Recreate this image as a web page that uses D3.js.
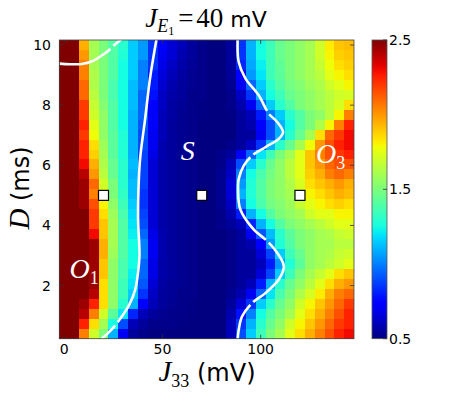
<!DOCTYPE html>
<html>
<head>
<meta charset="utf-8">
<script src="https://cdn.jsdelivr.net/npm/d3@7"></script>
<style>
  body { margin: 0; background: #fff; }
  text { fill: #000; }
</style>
</head>
<body>
<svg width="474" height="399"></svg>
<script>
  // grid of the map
  const j33 = [0, 5, 10, 15, 20, 25, 30, 35, 40, 45, 50, 55, 60, 65, 70, 75, 80, 85, 90, 95,
               100, 105, 110, 115, 120, 125, 130, 135, 140, 145];
  const dVals = [10.0, 9.669, 9.338, 9.007, 8.676, 8.345, 8.014, 7.683, 7.352, 7.021,
                 6.690, 6.359, 6.028, 5.697, 5.366, 5.034, 4.703, 4.372, 4.041, 3.710,
                 3.379, 3.048, 2.717, 2.386, 2.055, 1.724, 1.393, 1.062, 0.731, 0.400];

  // one row per D value (top to bottom), one number per J33 column
  const values = [
    [2.5,2.5,1.95,1.6,1.5,1.4,1.3,1.15,1.05,0.85, 0.72,0.65,0.6,0.55,0.52,0.5,0.5,0.55, 0.85,1.1,1.25,1.35,1.45,1.5,1.55,1.6,1.7,1.82,1.9,1.92],
    [2.5,2.5,2.0,1.6,1.5,1.4,1.28,1.15,1.05,0.85, 0.7,0.65,0.58,0.55,0.52,0.5,0.5,0.55, 0.85,1.1,1.25,1.35,1.45,1.5,1.55,1.6,1.7,1.8,1.88,1.9],
    [2.5,2.5,2.05,1.6,1.5,1.4,1.25,1.15,1.0,0.85, 0.68,0.62,0.57,0.54,0.52,0.5,0.5,0.55, 0.82,1.08,1.22,1.35,1.43,1.5,1.55,1.6,1.68,1.78,1.85,1.88],
    [2.5,2.5,2.05,1.62,1.5,1.4,1.25,1.15,1.0,0.8, 0.66,0.6,0.56,0.53,0.52,0.5,0.5,0.54, 0.75,1.05,1.2,1.35,1.42,1.5,1.55,1.6,1.65,1.75,1.8,1.85],
    [2.5,2.5,2.1,1.62,1.5,1.38,1.25,1.12,1.0,0.8, 0.64,0.58,0.55,0.53,0.52,0.5,0.5,0.53, 0.7,0.95,1.15,1.3,1.4,1.48,1.52,1.58,1.62,1.7,1.75,1.8],
    [2.5,2.5,2.1,1.65,1.5,1.38,1.25,1.12,0.95,0.78, 0.62,0.57,0.55,0.52,0.52,0.5,0.5,0.52, 0.62,0.85,1.1,1.25,1.35,1.45,1.5,1.55,1.6,1.65,1.7,1.72],
    [2.5,2.5,2.2,1.68,1.52,1.4,1.25,1.12,0.95,0.75, 0.62,0.56,0.54,0.52,0.51,0.5,0.5,0.52, 0.58,0.7,0.95,1.15,1.3,1.4,1.5,1.55,1.6,1.65,1.72,1.85],
    [2.5,2.5,2.2,1.7,1.55,1.4,1.25,1.1,0.95,0.75, 0.6,0.56,0.53,0.52,0.51,0.5,0.5,0.51, 0.55,0.6,0.8,1.0,1.15,1.3,1.4,1.5,1.55,1.65,1.8,2.05],
    [2.5,2.5,2.25,1.75,1.55,1.4,1.25,1.1,0.92,0.72, 0.6,0.55,0.53,0.52,0.5,0.5,0.5,0.5, 0.55,0.58,0.72,0.9,1.1,1.25,1.4,1.5,1.62,1.8,2.05,2.25],
    [2.5,2.5,2.2,1.78,1.55,1.42,1.28,1.1,0.9,0.7, 0.6,0.55,0.53,0.52,0.5,0.5,0.5,0.5, 0.55,0.55,0.7,0.9,1.1,1.3,1.45,1.6,1.85,2.1,2.2,2.3],
    [2.5,2.5,2.25,1.85,1.58,1.42,1.28,1.1,0.9,0.7, 0.58,0.55,0.53,0.52,0.5,0.5,0.5,0.52, 0.55,0.62,0.85,1.1,1.3,1.45,1.6,1.78,2.0,2.15,2.25,2.3],
    [2.5,2.5,2.25,1.88,1.6,1.42,1.28,1.1,0.88,0.68, 0.58,0.55,0.53,0.52,0.5,0.5,0.52,0.55, 0.7,0.95,1.2,1.35,1.5,1.6,1.75,1.9,2.05,2.15,2.2,2.25],
    [2.5,2.5,2.3,1.95,1.62,1.45,1.3,1.12,0.88,0.65, 0.57,0.55,0.53,0.52,0.5,0.5,0.52,0.6, 0.9,1.15,1.3,1.45,1.55,1.65,1.75,1.9,2.0,2.1,2.15,2.15],
    [2.5,2.5,2.4,2.0,1.65,1.45,1.3,1.1,0.88,0.65, 0.57,0.55,0.53,0.52,0.5,0.5,0.53,0.62, 1.0,1.25,1.38,1.48,1.55,1.65,1.75,1.88,1.95,2.05,2.1,2.05],
    [2.5,2.5,2.45,2.1,1.7,1.5,1.3,1.12,0.88,0.65, 0.57,0.55,0.53,0.52,0.5,0.5,0.53,0.65, 1.05,1.28,1.4,1.5,1.55,1.62,1.72,1.85,1.9,1.95,2.0,1.95],
    [2.5,2.5,2.45,2.05,1.75,1.5,1.32,1.12,0.85,0.65, 0.57,0.55,0.53,0.52,0.5,0.5,0.53,0.65, 1.1,1.28,1.4,1.5,1.55,1.6,1.72,1.8,1.85,1.9,1.95,1.92],
    [2.5,2.5,2.45,2.15,1.8,1.55,1.35,1.15,0.85,0.65, 0.57,0.55,0.53,0.52,0.5,0.5,0.53,0.62, 1.0,1.25,1.38,1.48,1.52,1.58,1.68,1.75,1.8,1.85,1.88,1.85],
    [2.5,2.5,2.5,2.2,1.85,1.58,1.38,1.18,0.88,0.65, 0.57,0.55,0.53,0.52,0.5,0.5,0.52,0.58, 0.8,1.1,1.25,1.4,1.5,1.55,1.6,1.7,1.75,1.75,1.8,1.8],
    [2.5,2.5,2.5,2.2,1.9,1.6,1.4,1.2,0.9,0.65, 0.57,0.55,0.53,0.52,0.5,0.5,0.52,0.55, 0.6,0.82,1.1,1.25,1.4,1.5,1.55,1.6,1.65,1.7,1.75,1.75],
    [2.5,2.5,2.5,2.3,1.9,1.6,1.4,1.22,0.95,0.68, 0.58,0.55,0.53,0.52,0.5,0.5,0.5,0.52, 0.55,0.7,0.92,1.12,1.3,1.42,1.5,1.55,1.6,1.62,1.68,1.7],
    [2.5,2.5,2.5,2.45,1.95,1.6,1.4,1.25,1.0,0.7, 0.58,0.55,0.53,0.52,0.5,0.5,0.5,0.52, 0.55,0.58,0.75,1.05,1.28,1.4,1.5,1.55,1.6,1.6,1.65,1.65],
    [2.5,2.5,2.5,2.45,1.95,1.58,1.4,1.25,1.0,0.7, 0.58,0.55,0.53,0.52,0.5,0.5,0.5,0.52, 0.55,0.55,0.65,0.88,1.15,1.35,1.45,1.55,1.6,1.62,1.68,1.7],
    [2.5,2.5,2.5,2.45,1.9,1.55,1.38,1.25,0.95,0.68, 0.57,0.55,0.53,0.52,0.5,0.5,0.5,0.52, 0.55,0.55,0.6,0.8,1.05,1.28,1.42,1.55,1.6,1.65,1.7,1.75],
    [2.5,2.5,2.5,2.45,1.9,1.55,1.38,1.22,0.95,0.68, 0.57,0.55,0.53,0.52,0.5,0.5,0.5,0.52, 0.55,0.55,0.65,0.88,1.15,1.35,1.5,1.6,1.68,1.75,1.85,1.9],
    [2.5,2.5,2.5,2.45,1.85,1.55,1.35,1.2,0.92,0.65, 0.56,0.54,0.53,0.52,0.5,0.5,0.5,0.52, 0.55,0.6,0.8,1.1,1.3,1.45,1.55,1.65,1.75,1.85,1.95,2.0],
    [2.5,2.5,2.5,2.4,1.85,1.55,1.35,1.15,0.85,0.62, 0.55,0.54,0.52,0.52,0.5,0.5,0.5,0.53, 0.58,0.7,0.95,1.2,1.38,1.5,1.62,1.72,1.82,1.95,2.05,2.1],
    [2.5,2.5,2.45,2.25,1.85,1.55,1.3,1.1,0.75,0.6, 0.55,0.53,0.52,0.51,0.5,0.5,0.5,0.55, 0.65,0.85,1.15,1.3,1.45,1.55,1.7,1.8,1.9,2.0,2.1,2.2],
    [2.5,2.5,2.4,2.05,1.7,1.42,1.2,0.82,0.6,0.55, 0.53,0.52,0.52,0.51,0.5,0.5,0.5,0.58, 0.78,1.0,1.25,1.4,1.5,1.6,1.75,1.85,1.95,2.05,2.15,2.25],
    [2.5,2.5,2.25,1.85,1.6,1.25,0.9,0.6,0.55,0.52, 0.52,0.52,0.51,0.5,0.5,0.5,0.5,0.6, 0.85,1.1,1.3,1.45,1.55,1.7,1.8,1.9,2.0,2.1,2.2,2.25],
    [2.5,2.5,2.05,1.7,1.5,1.1,0.7,0.55,0.52,0.5, 0.5,0.5,0.5,0.5,0.5,0.5,0.5,0.6, 0.9,1.15,1.35,1.5,1.6,1.75,1.85,1.95,2.05,2.15,2.25,2.3]
  ];

  const xTicks = [0, 50, 100];
  const yTicks = [2, 4, 6, 8, 10];
  const cbTicks = [0.5, 1.5, 2.5];

  // marked parameter points
  const markers = [[20, 5], [70, 5], [120, 5]];

  // white boundary curves, (J33, D)
  const leftCurve = [[19.1,0.23],[24.5,0.57],[29.3,0.97],[33,1.35],[36.1,1.86],[37.5,2.4],[38.3,3.0],
                     [37.6,4.2],[37.8,5.2],[38.6,6.2],[41.2,7.55],[43.7,8.9],[47,10.2]];
  const leftGaps = [[25.9,0.76]];
  const arcCurve = [[-2.5,9.38],[3,9.36],[9,9.37],[14,9.45],[18,9.6],[22,9.78],[25.5,10.0],[29.3,10.2]];
  const arcGaps = [[24.5,9.9]];
  const rightCurve = [[88.3,10.2],[88.8,9.44],[92.2,8.89],[99.0,8.33],[104.1,7.72],[108.4,7.44],[111.4,7.1],
                      [109.2,6.88],[102.4,6.6],[95.6,6.32],[91.4,5.99],[88.8,5.54],[88.5,5.2],[89.6,4.54],
                      [96.4,3.87],[103.3,3.48],[108.4,3.09],[111.8,2.64],[109.2,2.2],[102.4,1.75],[95.6,1.42],
                      [90.5,0.97],[88.8,0.52],[88.3,0.23]];
  const rightGaps = [[103.5,7.75],[95.6,6.32],[103.3,3.48],[95.6,1.42]];

  const svg = d3.select("svg");
  const plot = {left: 59.3, right: 354, top: 40, bottom: 338.7};

  const x = d3.scaleLinear().domain([-2.5, 147.5]).range([plot.left, plot.right]);
  const y = d3.scaleLinear().domain([0.234, 10.166]).range([plot.bottom, plot.top]);

  // matplotlib "jet"
  const jr = d3.scaleLinear().domain([0, 0.35, 0.66, 0.89, 1]).range([0, 0, 1, 1, 0.5]).clamp(true);
  const jg = d3.scaleLinear().domain([0, 0.125, 0.375, 0.64, 0.91, 1]).range([0, 0, 1, 1, 0, 0]).clamp(true);
  const jb = d3.scaleLinear().domain([0, 0.11, 0.34, 0.65, 1]).range([0.5, 1, 1, 0, 0]).clamp(true);
  const norm = d3.scaleLinear().domain([0.5, 2.5]).range([0, 1]).clamp(true);
  const jet = v => { const t = norm(v); return d3.rgb(jr(t) * 255, jg(t) * 255, jb(t) * 255).toString(); };

  svg.append("defs").append("clipPath").attr("id", "clip")
    .append("rect").attr("x", plot.left).attr("y", plot.top)
    .attr("width", plot.right - plot.left).attr("height", plot.bottom - plot.top);

  const hx = (j33[1] - j33[0]) / 2, hy = (dVals[0] - dVals[1]) / 2;
  const cells = [];
  values.forEach((row, r) => row.forEach((v, c) => cells.push({j: j33[c], d: dVals[r], v})));

  svg.append("g").selectAll("rect").data(cells).join("rect")
    .attr("x", d => x(d.j - hx))
    .attr("y", d => y(d.d + hy))
    .attr("width", d => x(d.j + hx) - x(d.j - hx) + 0.4)
    .attr("height", d => y(d.d - hy) - y(d.d + hy) + 0.4)
    .attr("fill", d => jet(d.v))
    .attr("shape-rendering", "crispEdges");

  // boundary lines
  const line = d3.line().x(d => x(d[0])).y(d => y(d[1])).curve(d3.curveCatmullRom.alpha(0.5));
  const curves = svg.append("g").attr("clip-path", "url(#clip)");

  function gapDash(path, gaps) {
    const node = path.node(), total = node.getTotalLength();
    const at = gaps.map(g => {
      const px = x(g[0]), py = y(g[1]);
      let best = 0, bd = Infinity;
      for (let l = 0; l <= total; l += 0.5) {
        const p = node.getPointAtLength(l);
        const dd = (p.x - px) ** 2 + (p.y - py) ** 2;
        if (dd < bd) { bd = dd; best = l; }
      }
      return best;
    }).sort((a, b) => a - b);
    const arr = [];
    let prev = 0;
    at.forEach(l => { arr.push(Math.max(0, l - 2 - prev), 4); prev = l + 2; });
    arr.push(total - prev + 20, 1);
    path.attr("stroke-dasharray", arr.join(","));
  }

  [[leftCurve, leftGaps], [arcCurve, arcGaps], [rightCurve, rightGaps]].forEach(([pts, gaps]) => {
    const p = curves.append("path")
      .attr("d", line(pts))
      .attr("fill", "none")
      .attr("stroke", "#fff")
      .attr("stroke-width", 2.6);
    gapDash(p, gaps);
  });

  // frame and inward ticks
  svg.append("rect")
    .attr("x", plot.left).attr("y", plot.top)
    .attr("width", plot.right - plot.left).attr("height", plot.bottom - plot.top)
    .attr("fill", "none").attr("stroke", "#444").attr("stroke-width", 0.8);

  const tk = svg.append("g").attr("stroke", "#333").attr("stroke-width", 0.8);
  xTicks.forEach(t => {
    tk.append("line").attr("x1", x(t)).attr("x2", x(t)).attr("y1", plot.bottom).attr("y2", plot.bottom - 4);
    tk.append("line").attr("x1", x(t)).attr("x2", x(t)).attr("y1", plot.top).attr("y2", plot.top + 4);
  });
  yTicks.forEach(t => {
    tk.append("line").attr("x1", plot.left).attr("x2", plot.left + 4).attr("y1", y(t)).attr("y2", y(t));
    tk.append("line").attr("x1", plot.right).attr("x2", plot.right - 4).attr("y1", y(t)).attr("y2", y(t));
  });

  const tickFont = "DejaVu Sans, sans-serif";
  svg.append("g").selectAll("text").data(xTicks).join("text")
    .attr("x", d => x(d)).attr("y", 354)
    .attr("text-anchor", "middle")
    .style("font-family", tickFont).style("font-size", "14px")
    .text(d => d);
  svg.append("g").selectAll("text").data(yTicks).join("text")
    .attr("x", 51).attr("y", d => y(d) + 5)
    .attr("text-anchor", "end")
    .style("font-family", tickFont).style("font-size", "14px")
    .text(d => d);

  // markers
  svg.append("g").selectAll("rect").data(markers).join("rect")
    .attr("x", d => x(d[0]) - 5).attr("y", d => y(d[1]) - 5)
    .attr("width", 10).attr("height", 10)
    .attr("fill", "#fff").attr("stroke", "#000").attr("stroke-width", 1.2);

  // region labels
  const serif = "Liberation Serif, DejaVu Serif, serif";
  function regionLabel(name, sub, j, d) {
    const t = svg.append("text")
      .attr("x", x(j)).attr("y", y(d))
      .style("font-family", serif).style("font-size", "28px")
      .style("font-style", "italic").style("fill", "#fff");
    t.append("tspan").text(name);
    if (sub) t.append("tspan").attr("dy", 6).style("font-size", "18px").style("font-style", "normal").text(sub);
  }
  regionLabel("S", "", 59.3, 6.17);
  regionLabel("O", "1", 2.7, 2.25);
  regionLabel("O", "3", 128.2, 6.08);

  // colorbar
  const cb = {x: 372, w: 15};
  const cy = d3.scaleLinear().domain([0.5, 2.5]).range([plot.bottom, plot.top]);
  const grad = svg.select("defs").append("linearGradient")
    .attr("id", "jet").attr("x1", 0).attr("y1", 1).attr("x2", 0).attr("y2", 0);
  grad.selectAll("stop").data(d3.range(0, 1.0001, 0.02)).join("stop")
    .attr("offset", d => d)
    .attr("stop-color", d => jet(0.5 + 2 * d));
  svg.append("rect")
    .attr("x", cb.x).attr("y", cy(2.5))
    .attr("width", cb.w).attr("height", cy(0.5) - cy(2.5))
    .attr("fill", "url(#jet)").attr("stroke", "#555").attr("stroke-width", 0.8);
  cbTicks.forEach(t => {
    svg.append("line").attr("x1", cb.x + cb.w - 4).attr("x2", cb.x + cb.w)
      .attr("y1", cy(t)).attr("y2", cy(t)).attr("stroke", "#333").attr("stroke-width", 0.8);
    svg.append("text").attr("x", cb.x + cb.w + 2).attr("y", cy(t) + 5)
      .style("font-family", tickFont).style("font-size", "14px")
      .text(d3.format(".1f")(t));
  });

  // title
  const title = svg.append("text")
    .attr("x", 206).attr("y", 27).attr("text-anchor", "middle");
  title.append("tspan").style("font-family", serif).style("font-style", "italic").style("font-size", "27px").text("J");
  title.append("tspan").attr("dy", 5).style("font-family", serif).style("font-style", "italic").style("font-size", "18px").text("E");
  title.append("tspan").attr("dy", 3).style("font-family", serif).style("font-size", "12px").text("1");
  title.append("tspan").attr("dy", -8).attr("dx", 4).style("font-family", serif).style("font-size", "27px").text("=");
  title.append("tspan").attr("dx", 3).style("font-family", serif).style("font-size", "27px").text("40");
  title.append("tspan").style("font-family", tickFont).style("font-size", "22px").text(" mV");

  // axis labels
  const xl = svg.append("text").attr("x", 207).attr("y", 381).attr("text-anchor", "middle");
  xl.append("tspan").style("font-family", serif).style("font-style", "italic").style("font-size", "29px").text("J");
  xl.append("tspan").attr("dy", 6).style("font-family", serif).style("font-size", "18px").text("33");
  xl.append("tspan").attr("dy", -6).style("font-family", tickFont).style("font-size", "24px").text(" (mV)");

  const yl = svg.append("text")
    .attr("transform", "translate(29,188) rotate(-90)")
    .attr("text-anchor", "middle");
  yl.append("tspan").style("font-family", serif).style("font-style", "italic").style("font-size", "29px").text("D");
  yl.append("tspan").style("font-family", tickFont).style("font-size", "24px").text(" (ms)");
</script>
</body>
</html>
